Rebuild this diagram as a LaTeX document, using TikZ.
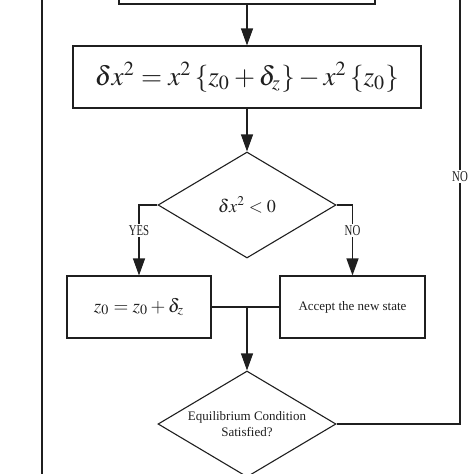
\documentclass[tikz,border=0pt]{standalone}
\usepackage{mathptmx}
\usepackage{fontspec}
\setmainfont{Liberation Serif}
\usepackage{graphicx}
\usetikzlibrary{shapes.geometric,arrows.meta}
\begin{document}
\begin{tikzpicture}[x=1pt,y=-1pt,
  line width=1.1pt,
  color=black!88,
  procbox/.style={draw, rectangle, inner sep=0pt, minimum height=62pt},
  decis/.style={draw, diamond, inner sep=0pt, aspect=1.68, minimum width=178pt, minimum height=106pt},
  arr/.style={-{Triangle[length=17pt,width=12pt]}},
  lbl/.style={fill=white, inner sep=1.5pt, font=\fontsize{15}{15}\selectfont},
  txt/.style={font=\fontsize{13}{16}\selectfont}
]
\useasboundingbox (0,0) rectangle (474,474);
\clip (0,0) rectangle (474,474);

\node[procbox, minimum width=256pt, minimum height=40pt] (top) at (247,-16) {};
\node[procbox, minimum width=348pt] (formula) at (247,77)
  {\resizebox{304pt}{!}{$\delta x^{2}=x^{2}\left\{z_{0}+\delta_{z}\right\}-x^{2}\left\{z_{0}\right\}$}};
\node[decis] (d1) at (247,205) {\resizebox{58pt}{!}{$\delta x^{2}<0$}};
\node[procbox, minimum width=144pt] (yesbox) at (139,307) {\resizebox{90pt}{!}{$z_{0}=z_{0}+\delta_{z}$}};
\node[procbox, minimum width=145pt, txt] (nobox) at (352.5,307) {Accept the new state};
\node[decis, txt, align=center] (d2) at (247,424) {Equilibrium Condition\\Satisfied?};

\coordinate (j) at (247,307);
\coordinate (rt) at (460,-10);
\coordinate (lt) at (42,-10);
\coordinate (lb) at (42,484);

\draw[arr] (top.south) -- (formula.north);
\draw[arr] (formula.south) -- (d1.north);
\draw[arr] (d1.west) -| node[lbl, pos=0.68]{\scalebox{0.72}[1]{YES}} (yesbox.north);
\draw[arr] (d1.east) -| node[lbl, pos=0.68]{\scalebox{0.72}[1]{NO}} (nobox.north);
\draw (yesbox.east) -- (nobox.west);
\draw[arr] (j) -- (d2.north);
\draw (d2.east) -| node[lbl, pos=0.785]{\scalebox{0.72}[1]{NO}} (rt);
\draw (lt) -- (lb);
\end{tikzpicture}
\end{document}
